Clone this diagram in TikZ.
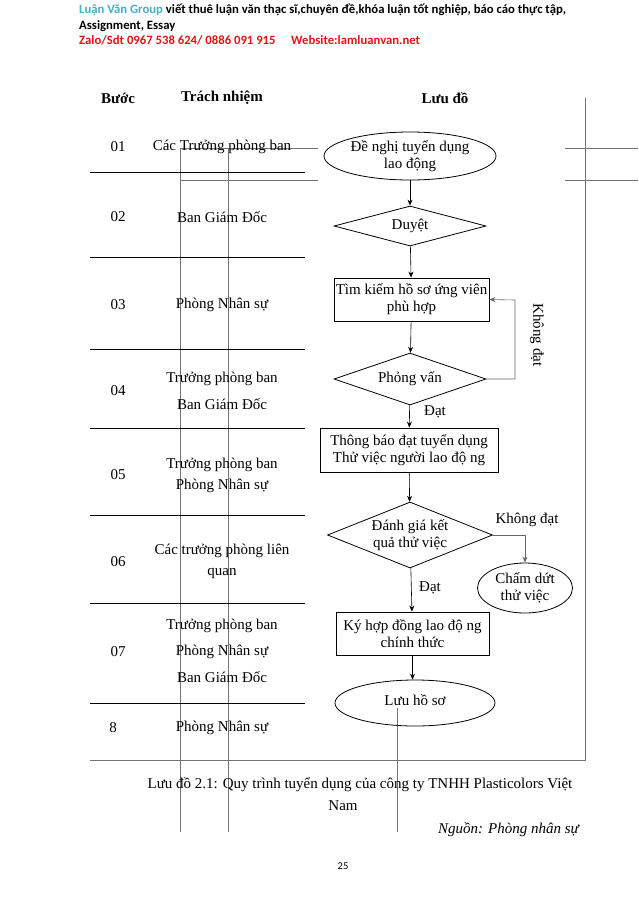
\documentclass[tikz,border=0pt]{standalone}
\usepackage{fontspec}
\setmainfont{Liberation Serif}
\newfontfamily\hdr{Carlito}
\usetikzlibrary{shapes.geometric,arrows.meta}
\definecolor{teal1}{RGB}{75,172,198}
\definecolor{red1}{RGB}{230,20,20}
\begin{document}
\begin{tikzpicture}[x=1pt,y=-1pt,
  t/.style={font=\fontsize{15}{17}\selectfont,inner sep=0pt,align=center},
  box/.style={draw,thick,t,inner sep=2pt},
  arr/.style={-{Stealth[length=6pt,width=5pt]},semithick},
  grey/.style={draw=black!55,thin},
  row/.style={thick}]
\useasboundingbox (0,0) rectangle (638,903);
% header
\node[anchor=west,inner sep=0,font=\hdr\bfseries\fontsize{12.7}{14}\selectfont] (h1) at (79,10) {\textcolor{teal1}{Luận Văn Group} viết thuê luận văn thạc sĩ,chuyên đề,khóa luận tốt nghiệp, báo cáo thực tập,};
\node[anchor=west,inner sep=0,font=\hdr\bfseries\fontsize{12.7}{14}\selectfont] (h2) at (79,26) {Assignment, Essay};
\node[anchor=west,inner sep=0,font=\hdr\bfseries\fontsize{12.7}{14}\selectfont,text=red1] (h3) at (79,40) {Zalo/Sdt 0967 538 624/ 0886 091 915\quad\ Website:lamluanvan.net};
% column headers
\node[t,font=\bfseries\fontsize{15}{17}\selectfont] (c1) at (118,98) {Bước};
\node[t,font=\bfseries\fontsize{15}{17}\selectfont] (c2) at (222,98) {Trách nhiệm};
\node[t,font=\bfseries\fontsize{15}{17}\selectfont] (c3) at (445,98) {Lưu đồ};
% stray lines
\draw[grey] (180,148) -- (318,148) (180,180) -- (318,180) (565,148) -- (638,148) (565,180) -- (638,180);
\draw[grey] (180,148) -- (180,832) (228,148) -- (228,832) (397,708) -- (397,832);
\draw[grey] (585,98) -- (585,760) -- (90,760);
% row lines
\foreach \y in {172,257,349,428,515,603,703} \draw[row] (90,\y) -- (305,\y);
% table text
\node[t] (s1) at (118,147) {01}; \node[t] (r1) at (222,147) {Các Trưởng phòng ban};
\node[t] (s2) at (118,217) {02}; \node[t] (r2) at (222,217) {Ban Giám Đốc};
\node[t] (s3) at (118,305) {03}; \node[t] (r3) at (222,305) {Phòng Nhân sự};
\node[t] (s4) at (118,391) {04}; \node[t] (r4a) at (222,379) {Trưởng phòng ban}; \node[t] (r4b) at (222,404) {Ban Giám Đốc};
\node[t] (s5) at (118,475) {05}; \node[t] (r5a) at (222,465) {Trưởng phòng ban}; \node[t] (r5b) at (222,486) {Phòng Nhân sự};
\node[t] (s6) at (118,562) {06}; \node[t] (r6a) at (222,551) {Các trưởng phòng liên}; \node[t] (r6b) at (222,573) {quan};
\node[t] (s7) at (118,652) {07}; \node[t] (r7a) at (222,626) {Trưởng phòng ban}; \node[t] (r7b) at (222,652) {Phòng Nhân sự}; \node[t] (r7c) at (222,677) {Ban Giám Đốc};
\node[t] (s8) at (113,728) {8}; \node[t] (r8) at (222,728) {Phòng Nhân sự};
% flowchart
\node[box,ellipse,minimum width=172,minimum height=48,inner sep=0pt] (e1) at (410,156) {Đề nghị tuyển dụng\\lao động};
\node[box,diamond,aspect=3.8,minimum width=152,minimum height=40,inner sep=0pt] (d1) at (410,226) {Duyệt};
\node[box,minimum width=155,minimum height=43,inner sep=1pt] (b1) at (411.5,299.5) {Tìm kiếm hồ sơ ứng viên\\phù hợp};
\node[box,diamond,aspect=3,minimum width=152,minimum height=52,inner sep=0pt] (d2) at (410,379) {Phỏng vấn};
\node[box,minimum width=178,minimum height=44,inner sep=1pt] (b2) at (409,450) {Thông báo đạt tuyển dụng\\Thử việc người lao độ ng};
\node[box,diamond,aspect=2.5,minimum width=165,minimum height=66,inner sep=0pt] (d3) at (410,535) {Đánh giá kết\\quả thử việc};
\node[box,ellipse,minimum width=95,minimum height=50,inner sep=0pt] (e2) at (525,588) {Chấm dứt\\thử việc};
\node[box,minimum width=153,minimum height=43,inner sep=1pt] (b3) at (412.5,633.5) {Ký hợp đồng lao độ ng\\chính thức};
\node[box,ellipse,minimum width=160,minimum height=46,inner sep=0pt] (e3) at (415,703) {\raisebox{6pt}{Lưu hồ sơ}};
\draw[arr] (e1) -- (d1);
\draw[arr] (d1) -- (b1);
\draw[arr] (b1) -- (d2);
\draw[arr] (d2) -- (b2);
\draw[arr] (b2) -- (d3);
\draw[arr] (d3) -- (b3);
\draw[arr] (b3.south) -- (b3.south|-e3.north);
\coordinate (k1) at (515,379); \coordinate (k2) at (515,300);
\draw[arr,black!60] (d2.east) -- (k1) -- (k2) -- (b1.east);
\coordinate (k3) at (525,535);
\draw[arr,black!60] (d3.east) -- (k3) -- (e2.north);
\node[t,rotate=-90] (l1) at (537,335) {Không đạt};
\node[t] (l2) at (435,412) {Đạt};
\node[t] (l3) at (430,588) {Đạt};
\node[t] (l4) at (527,520) {Không đạt};
% caption
\node[t] (cap1) at (360,785) {Lưu đồ 2.1: Quy trình tuyển dụng của công ty TNHH Plasticolors Việt};
\node[t] (cap2) at (343,806) {Nam};
\node[t,anchor=east,font=\itshape\fontsize{15}{17}\selectfont] (src) at (579,830) {Nguồn: Phòng nhân sự};
\node[inner sep=0,font=\hdr\fontsize{10.5}{12}\selectfont] (pg) at (343,866) {25};
\end{tikzpicture}
\end{document}
